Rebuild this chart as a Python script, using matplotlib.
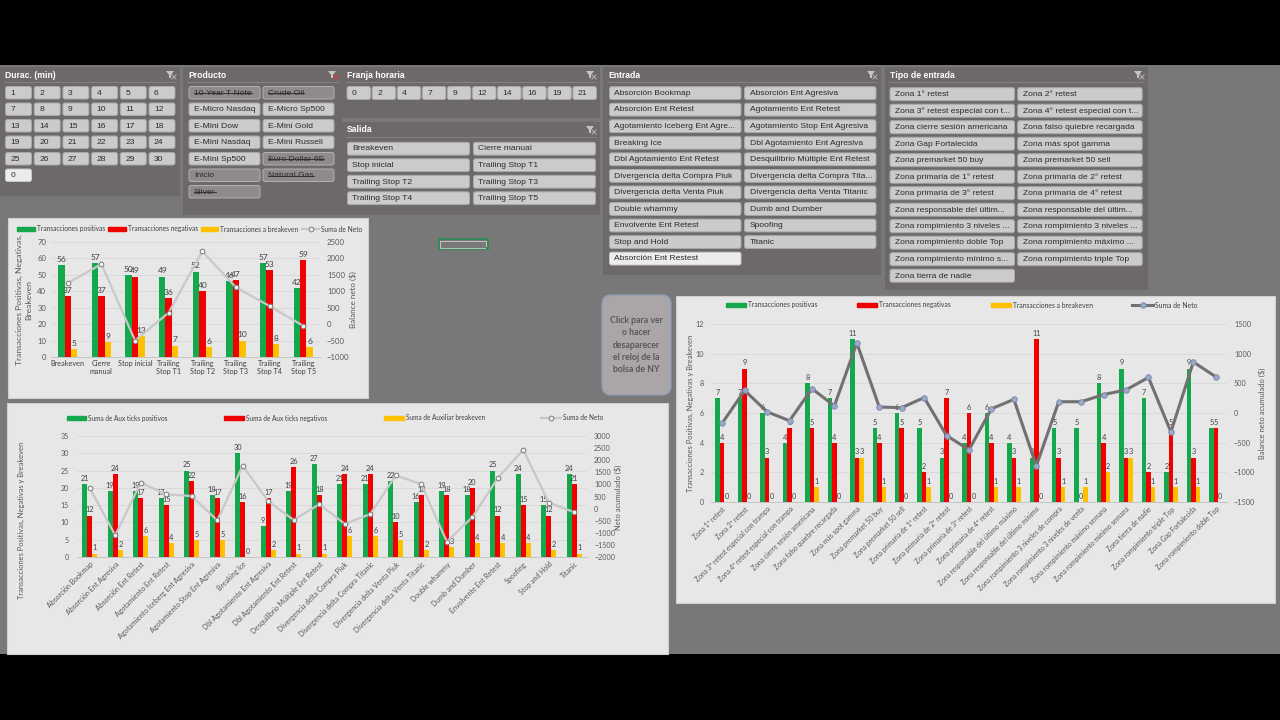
import matplotlib
matplotlib.use('Agg')
import matplotlib.pyplot as plt
from matplotlib.patches import Rectangle, FancyBboxPatch, Polygon
from matplotlib.lines import Line2D
from matplotlib.patches import Patch
import numpy as np
import textwrap

plt.rcParams['font.family'] = ['Lato', 'DejaVu Sans']

W, H = 1280, 720

# ---------------- data: chart "Salida" (top left) ----------------
salida_cats = ['Breakeven', 'Cierre manual', 'Stop inicial', 'Trailing Stop T1',
               'Trailing Stop T2', 'Trailing Stop T3', 'Trailing Stop T4', 'Trailing Stop T5']
salida_pos = [56, 57, 50, 49, 52, 46, 57, 42]
salida_neg = [37, 37, 49, 36, 40, 47, 53, 59]
salida_be = [5, 9, 13, 7, 6, 10, 8, 6]
salida_neto = [1250, 1830, -500, 350, 2220, 1120, 550, -50]

# ---------------- data: chart "Entrada" (bottom left) ----------------
entrada_cats = ['Absorción Bookmap', 'Absorción Ent Agresiva', 'Absorción Ent Retest',
                'Agotamiento Ent Retest', 'Agotamiento Iceberg Ent Agresiva',
                'Agotamiento Stop Ent Agresiva', 'Breaking Ice', 'Dbl Agotamiento Ent Agresiva',
                'Dbl Agotamiento Ent Retest', 'Desquilibrio Múltiple Ent Retest',
                'Divergencia delta Compra Piuk', 'Divergencia delta Compra Titanic',
                'Divergencia delta Venta Piuk', 'Divergencia delta Venta Titanic',
                'Double whammy', 'Dumb and Dumber', 'Envolvente Ent Retest', 'Spoofing',
                'Stop and Hold', 'Titanic']
entrada_pos = [21, 19, 19, 17, 25, 18, 30, 9, 19, 27, 21, 21, 22, 16, 19, 18, 25, 24, 15, 24]
entrada_neg = [12, 24, 17, 15, 22, 17, 16, 17, 26, 18, 24, 24, 10, 18, 18, 20, 12, 15, 12, 21]
entrada_be = [1, 2, 6, 4, 5, 5, 0, 2, 1, 1, 6, 6, 5, 2, 3, 4, 4, 4, 2, 1]
entrada_neto = [850, -1100, 1070, 590, 520, -490, 1770, 300, -470, 180,
                -630, -230, 1370, 1010, -1360, -360, 1260, 2430, 250, -150]

# ---------------- data: chart "Tipo de entrada" (right) ----------------
tipo_cats = ['Zona 1º retest', 'Zona 2º retest', 'Zona 3º retest especial con trampa',
             'Zona 4º retest especial con trampa', 'Zona cierre sesión americana',
             'Zona falso quiebre recargada', 'Zona más spot gamma', 'Zona premarket 50 buy',
             'Zona premarket 50 sell', 'Zona primaria de 1º retest', 'Zona primaria de 2º retest',
             'Zona primaria de 3º retest', 'Zona primaria de 4º retest',
             'Zona responsable del último máximo', 'Zona responsable del último mínimo',
             'Zona rompimiento 3 niveles de compra', 'Zona rompimiento 3 niveles de venta',
             'Zona rompimiento máximo semana', 'Zona rompimiento mínimo semana',
             'Zona tierra de nadie', 'Zona rompimiento triple Top', 'Zona Gap Fortalecida',
             'Zona rompimiento doble Top']
tipo_pos = [7, 7, 6, 4, 8, 7, 11, 5, 6, 5, 3, 4, 6, 4, 3, 5, 5, 8, 9, 7, 2, 9, 5]
tipo_neg = [4, 9, 3, 5, 5, 4, 3, 4, 5, 2, 7, 6, 4, 3, 11, 3, 0, 4, 3, 2, 5, 3, 5]
tipo_be = [0, 0, 0, 0, 1, 0, 3, 1, 0, 1, 0, 0, 1, 1, 0, 1, 1, 2, 3, 1, 1, 1, 0]
tipo_neto = [-170, 380, 20, -130, 410, 120, 1180, 100, 90, 260, -380, -620, 70,
             230, -890, 190, 190, 310, 390, 600, -320, 860, 610]

# ---------------- slicer items ----------------
durac_items = ['1', '2', '3', '4', '5', '6', '7', '8', '9', '10', '11', '12', '13', '14', '15',
               '16', '17', '18', '19', '20', '21', '22', '23', '24', '25', '26', '27', '28',
               '29', '30', '0']
producto_items = ['10-Year T-Note', 'Crude Oil', 'E-Micro Nasdaq', 'E-Micro Sp500', 'E-Mini Dow',
                  'E-Mini Gold', 'E-Mini Nasdaq', 'E-Mini Russell', 'E-Mini Sp500',
                  'Euro Dollar-6E', 'Inicio', 'Natural Gas', 'Silver']
producto_off = ['10-Year T-Note', 'Crude Oil', 'Euro Dollar-6E', 'Inicio', 'Natural Gas', 'Silver']
producto_strike = ['10-Year T-Note', 'Crude Oil', 'Euro Dollar-6E', 'Natural Gas', 'Silver']
franja_items = ['0', '2', '4', '7', '9', '12', '14', '16', '19', '21']
salida_items = salida_cats
entrada_items = ['Absorción Bookmap', 'Absorción Ent Agresiva', 'Absorción Ent Retest',
                 'Agotamiento Ent Retest', 'Agotamiento Iceberg Ent Agre...',
                 'Agotamiento Stop Ent Agresiva', 'Breaking Ice', 'Dbl Agotamiento Ent Agresiva',
                 'Dbl Agotamiento Ent Retest', 'Desquilibrio Múltiple Ent Retest',
                 'Divergencia delta Compra Piuk', 'Divergencia delta Compra Tita...',
                 'Divergencia delta Venta Piuk', 'Divergencia delta Venta Titanic',
                 'Double whammy', 'Dumb and Dumber', 'Envolvente Ent Retest', 'Spoofing',
                 'Stop and Hold', 'Titanic', 'Absorción Ent Restest']
tipo_items = ['Zona 1° retest', 'Zona 2° retest', 'Zona 3° retest especial con t...',
              'Zona 4° retest especial con t...', 'Zona cierre sesión americana',
              'Zona falso quiebre recargada', 'Zona Gap Fortalecida', 'Zona más spot gamma',
              'Zona premarket 50 buy', 'Zona premarket 50 sell', 'Zona primaria de 1° retest',
              'Zona primaria de 2° retest', 'Zona primaria de 3° retest',
              'Zona primaria de 4° retest', 'Zona responsable del últim...',
              'Zona responsable del últim...', 'Zona rompimiento 3 niveles ...',
              'Zona rompimiento 3 niveles ...', 'Zona rompimiento doble Top',
              'Zona rompimiento máximo ...', 'Zona rompimiento mínimo s...',
              'Zona rompimiento triple Top', 'Zona tierra de nadie']

GREEN, RED, YELLOW = '#12a84b', '#f00000', '#ffc000'
SLF = ['Liberation Sans', 'DejaVu Sans']

fig = plt.figure(figsize=(12.8, 7.2), dpi=100, facecolor='black')
bg = fig.add_axes([0, 0, 1, 1])
bg.set_xlim(0, W)
bg.set_ylim(H, 0)
bg.axis('off')
bg.add_patch(Rectangle((0, 65), W, 589, fc='#787878', ec='none'))

renderer = fig.canvas.get_renderer()


def funnel(x, y, red=False):
    col = '#c8c4c4'
    bg.add_patch(Polygon([(x - 4, y - 3), (x + 4, y - 3), (x + 1, y + 1), (x + 1, y + 4),
                          (x - 1, y + 4), (x - 1, y + 1)], closed=True, fc=col, ec='none'))
    c2 = '#c84040' if red else '#b0acac'
    bg.plot([x + 2, x + 6], [y + 1, y + 5], color=c2, lw=0.8)
    bg.plot([x + 2, x + 6], [y + 5, y + 1], color=c2, lw=0.8)


def slicer_panel(x0, y0, x1, y1, title, red=False):
    bg.add_patch(Rectangle((x0, y0), x1 - x0, y1 - y0, fc='#6d6969', ec='none'))
    bg.text(x0 + 5, y0 + 8, title, fontsize=6.2, fontweight='bold', color='white',
            family=SLF, ha='left', va='center')
    bg.plot([x0 + 4, x1 - 4], [y0 + 15, y0 + 15], color='#8a8686', lw=0.6)
    funnel(x1 - 10, y0 + 7, red)


def buttons(items, ncols, bx0, by0, bw, bh, px, py, fs=6.1, off=(), strike=(), hi_last=False):
    for k, it in enumerate(items):
        r, c = divmod(k, ncols)
        x = bx0 + c * px
        y = by0 + r * py
        if hi_last and k == len(items) - 1:
            st = 'hi'
        elif it in off:
            st = 'off'
        else:
            st = 'on'
        fc = {'on': '#cbcbcb', 'off': '#8f8b8b', 'hi': '#ececec'}[st]
        ec = {'on': '#aaaaaa', 'off': '#b5b1b1', 'hi': '#c8c8c8'}[st]
        bg.add_patch(FancyBboxPatch((x, y), bw, bh, boxstyle='round,pad=0,rounding_size=2.2',
                                    fc=fc, ec=ec, lw=0.7))
        t = bg.text(x + 5, y + bh / 2 + 0.3, it, fontsize=fs, family=SLF,
                    color='#2a2a2a', ha='left', va='center')
        if it in strike:
            bb = t.get_window_extent(renderer).transformed(bg.transData.inverted())
            ym = y + bh / 2 + 0.3
            bg.plot([bb.x0, bb.x1], [ym, ym], color='#2a2a2a', lw=0.6)


# Durac. (min)
slicer_panel(0, 67, 180, 196, 'Durac. (min)')
buttons(durac_items, 6, 5.5, 86.5, 26, 12.5, 28.7, 16.5, hi_last=True)
# Producto
slicer_panel(183, 67, 342, 215, 'Producto', red=True)
buttons(producto_items, 2, 189, 86.5, 71, 12.5, 74, 16.5, off=producto_off, strike=producto_strike)
# Franja horaria
slicer_panel(342, 67, 600, 118, 'Franja horaria')
buttons(franja_items, 10, 347, 86.5, 23.5, 13, 25.1, 16.5)
# Salida
slicer_panel(342, 122, 600, 215, 'Salida')
buttons(salida_items, 2, 347.5, 142.3, 122, 12.8, 126, 16.5)
# Entrada
slicer_panel(603, 67, 881, 275, 'Entrada')
buttons(entrada_items, 2, 609.5, 86.7, 131.5, 12.8, 135, 16.55, hi_last=True)
# Tipo de entrada
slicer_panel(885, 67, 1148, 290, 'Tipo de entrada')
buttons(tipo_items, 2, 890, 87.7, 124.5, 13, 127.7, 16.5)

# selected cell
bg.add_patch(Rectangle((438.5, 239), 49, 10, fc='none', ec='#2e8b57', lw=1.3))
bg.add_patch(Rectangle((438.5 + 1.5, 240.5), 46, 7, fc='none', ec='#e0e0e0', lw=0.5))
bg.add_patch(Rectangle((486, 247), 3, 3, fc='#2e8b57', ec='none'))

# button "Click para ver..."
bg.add_patch(FancyBboxPatch((602, 295), 69, 100, boxstyle='round,pad=0,rounding_size=9',
                            fc='#aaa6a7', ec='#8e9bb4', lw=1.0))
bg.text(636.5, 345, 'Click para ver\no hacer\ndesaparecer\nel reloj de la\nbolsa de NY',
        fontsize=6.3, fontweight='bold', color='#5a5757', ha='center', va='center',
        linespacing=1.45)

# chart frames
for (x0, y0, x1, y1) in [(8, 218, 368, 398), (7, 403, 668, 654), (676, 296, 1275, 603)]:
    bg.add_patch(Rectangle((x0, y0), x1 - x0, y1 - y0, fc='#e7e7e7', ec='#cfcfcf', lw=0.8))


def px_axes(x0, y0, x1, y1):
    return fig.add_axes([x0 / W, 1 - y1 / H, (x1 - x0) / W, (y1 - y0) / H])


def combo(rect, cats, pos, neg, be, neto, lim_l, ticks_l, lim_r, ticks_r, bw,
          tick_fs, lab_fs, cat_fs, rot, line_style, xlabels=None, padl=4, padr=5):
    ax = px_axes(*rect)
    ax.set_facecolor('none')
    x = np.arange(len(cats))
    b1 = ax.bar(x - bw, pos, bw, color=GREEN, zorder=2)
    b2 = ax.bar(x, neg, bw, color=RED, zorder=2)
    b3 = ax.bar(x + bw, be, bw, color=YELLOW, zorder=2)
    for b in (b1, b2, b3):
        ax.bar_label(b, fontsize=lab_fs, color='#404040', padding=1.5)
    ax.set_xlim(-0.5, len(cats) - 0.5)
    ax.set_ylim(*lim_l)
    ax.set_yticks(ticks_l)
    ax.set_xticks(x)
    if rot:
        ax.set_xticklabels(xlabels if xlabels else cats, rotation=45, ha='right',
                           rotation_mode='anchor', fontsize=cat_fs, color='#595959')
    else:
        ax.set_xticklabels(xlabels if xlabels else cats, fontsize=cat_fs, color='#404040',
                           linespacing=1.15)
    ax.tick_params(axis='both', length=0, pad=2.5)
    ax.tick_params(axis='y', labelsize=tick_fs, labelcolor='#595959', pad=padl)
    ax.yaxis.grid(True, color='#d8d8d8', lw=0.6)
    ax.set_axisbelow(True)
    for s in ('left', 'right', 'top'):
        ax.spines[s].set_visible(False)
    ax.spines['bottom'].set_color('#c4c4c4')
    ax.spines['bottom'].set_linewidth(0.7)
    ax2 = ax.twinx()
    ax2.set_ylim(*lim_r)
    ax2.set_yticks(ticks_r)
    ax2.tick_params(length=0, labelsize=tick_fs, labelcolor='#595959', pad=padr)
    for s in ax2.spines.values():
        s.set_visible(False)
    ax2.plot(x, neto, **line_style, zorder=3)
    return ax, ax2


light_line = dict(color='#c8c8c8', lw=1.6, marker='o', ms=3.4, mfc='#f2f2f2',
                  mec='#7a7a7a', mew=0.7)
dark_line = dict(color='#727070', lw=2.2, marker='o', ms=4.0, mfc='#9aa9c9',
                 mec='#7886ad', mew=0.6)

# ---- chart 1 ----
wrapped = [textwrap.fill(c, 12) for c in salida_cats]
ax1, ax1b = combo((51, 242, 320, 357), salida_cats, salida_pos, salida_neg, salida_be,
                  salida_neto, (0, 70), range(0, 71, 10), (-1000, 2500),
                  range(-1000, 2501, 500), 0.19, 5.6, 6.0, 5.2, False, light_line,
                  xlabels=wrapped, padl=3.5, padr=5)
h1 = [Patch(color=GREEN), Patch(color=RED), Patch(color=YELLOW), Line2D([], [], **light_line)]
l1 = ['Transacciones positivas', 'Transacciones negativas', 'Transacciones a breakeven',
      'Suma de Neto']
fig.legend(h1, l1, loc='center', bbox_to_anchor=(190 / W, 1 - 229 / H), ncol=4, frameon=False,
           fontsize=4.8, handlelength=2.6, handleheight=0.6, handletextpad=0.3,
           columnspacing=0.5, labelcolor='#404040')
bg.text(24, 300, 'Transacciones Positivas, Negativas,\nBreakeven', rotation=90, ha='center',
        va='center', fontsize=6.1, color='#595959', linespacing=1.35)
bg.text(353, 300, 'Balance neto ($)', rotation=90, ha='center', va='center', fontsize=5.8,
        color='#595959')

# ---- chart 2 ----
ax2, ax2b = combo((77, 436, 587, 557), entrada_cats, entrada_pos, entrada_neg, entrada_be,
                  entrada_neto, (0, 35), range(0, 36, 5), (-2000, 3000),
                  range(-2000, 3001, 500), 0.2, 5.1, 5.3, 5.0, True, light_line, padl=6, padr=5)
h2 = [Patch(color=GREEN), Patch(color=RED), Patch(color=YELLOW), Line2D([], [], **light_line)]
l2 = ['Suma de Aux ticks positivos', 'Suma de Aux ticks negativos',
      'Suma de Auxiliar breakeven', 'Suma de Neto']
fig.legend(h2, l2, loc='center left', mode='expand',
           bbox_to_anchor=(64 / W, 1 - 423 / H, (606 - 64) / W, 10 / H), ncol=4, frameon=False,
           fontsize=4.7, handlelength=3.0, handleheight=0.6, handletextpad=0.3,
           labelcolor='#404040', borderaxespad=0)
bg.text(21, 520, 'Transacciones Positivas, Negativas y Breakeven', rotation=90, ha='center',
        va='center', fontsize=5.4, color='#595959')
bg.text(618, 497, 'Neto acumulado ($)', rotation=90, ha='center', va='center', fontsize=5.4,
        color='#595959')

# ---- chart 3 ----
ax3, ax3b = combo((711, 324, 1227, 502), tipo_cats, tipo_pos, tipo_neg, tipo_be, tipo_neto,
                  (0, 12), range(0, 13, 2), (-1500, 1500), range(-1500, 1501, 500), 0.2,
                  5.2, 5.3, 4.9, True, dark_line, padl=5, padr=5)
h3 = [Patch(color=GREEN), Patch(color=RED), Patch(color=YELLOW), Line2D([], [], **dark_line)]
l3 = ['Transacciones positivas', 'Transacciones negativas', 'Transacciones a breakeven',
      'Suma de Neto']
fig.legend(h3, l3, loc='center left', mode='expand',
           bbox_to_anchor=(723 / W, 1 - 310 / H, (1200 - 723) / W, 10 / H), ncol=4,
           frameon=False, fontsize=4.9, handlelength=3.0, handleheight=0.6,
           handletextpad=0.3, labelcolor='#404040', borderaxespad=0)
bg.text(690, 413, 'Transacciones Positivas, Negativas y Breakeven', rotation=90, ha='center',
        va='center', fontsize=5.4, color='#595959')
bg.text(1262, 413, 'Balance neto acumulado ($)', rotation=90, ha='center', va='center',
        fontsize=5.4, color='#595959')

fig.savefig('out.png', dpi=100, facecolor='black')
